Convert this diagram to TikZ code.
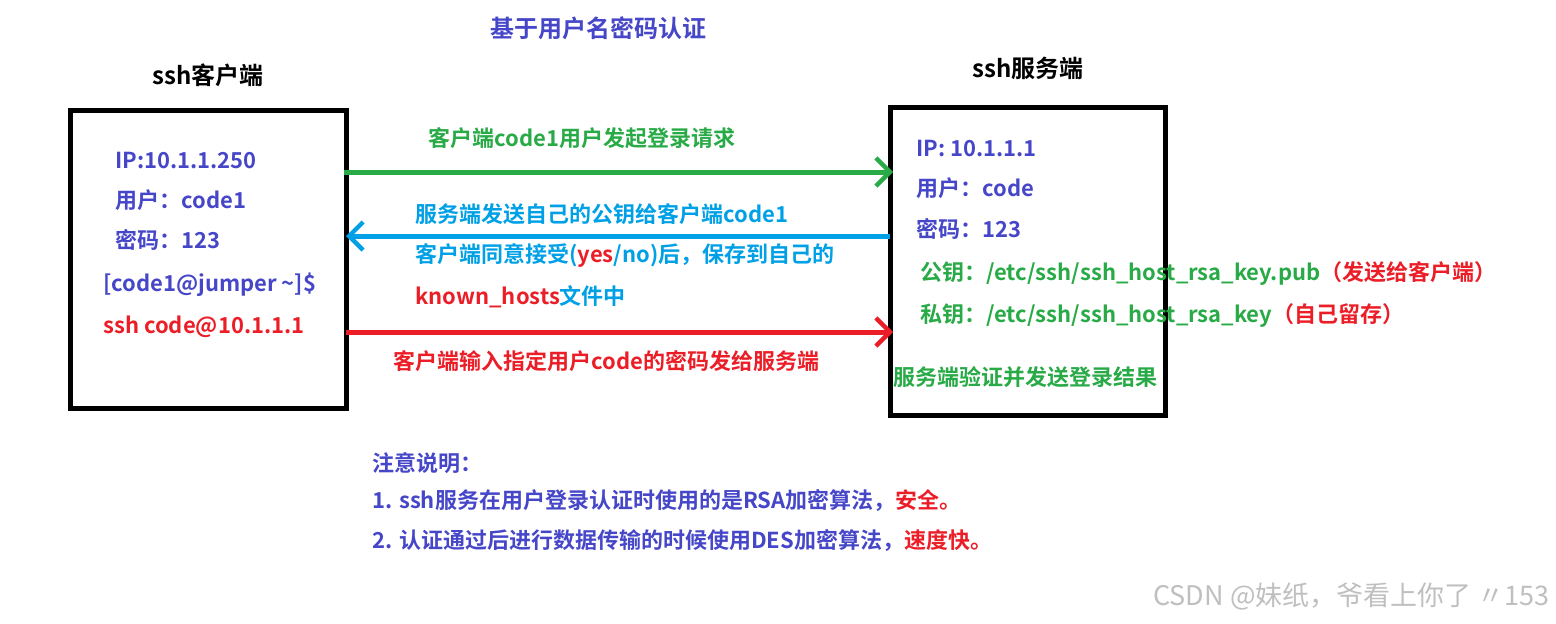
\documentclass[tikz,border=0pt]{standalone}
\usepackage{fontspec}
\setmainfont{Noto Sans CJK SC}[BoldFont={Noto Sans CJK SC Bold}]
\usetikzlibrary{arrows.meta}
\definecolor{tblue}{RGB}{70,70,200}
\definecolor{tgreen}{RGB}{40,170,70}
\definecolor{tcyan}{RGB}{0,160,230}
\definecolor{tred}{RGB}{235,30,40}
\begin{document}
\begin{tikzpicture}[x=0.5pt,y=-0.5pt,
  txt/.style={anchor=west,inner sep=0pt,font=\bfseries\fontsize{11}{12}\selectfont},
  box/.style={draw=black,line width=2.5pt},
  arr/.style={line width=2.5pt,-{Straight Barb[length=7pt,width=14pt,line width=2.2pt]}}]
\useasboundingbox (0,0) rectangle (1556,623);
\node[font=\bfseries\fontsize{12}{13}\selectfont,text=tblue] (title) at (598,28) {基于用户名密码认证};
\node[font=\bfseries\fontsize{12}{14}\selectfont] (cl) at (208,75) {ssh客户端};
\node[font=\bfseries\fontsize{12}{14}\selectfont] (sv) at (1028,68) {ssh服务端};
\draw[box] (70,110) rectangle (346,408);
\draw[box] (890,107) rectangle (1165,415);
\coordinate (L1) at (344,172); \coordinate (R1) at (893,172);
\coordinate (R2) at (890,236); \coordinate (L2) at (346,236);
\coordinate (L3) at (346,332); \coordinate (R3) at (893,332);
\draw[arr,tgreen] (L1) -- (R1);
\draw[arr,tcyan] (R2) -- (L2);
\draw[arr,tred] (L3) -- (R3);
\node[txt,text=tblue] (a1) at (115,160) {IP:10.1.1.250};
\node[txt,text=tblue] (a2) at (115,200) {用户：code1};
\node[txt,text=tblue] (a3) at (115,240) {密码：123};
\node[txt,text=tblue] (a4) at (103,285) {[code1@jumper \textasciitilde]\$};
\node[txt,text=tred] (a5) at (103,327) {ssh code@10.1.1.1};
\node[txt,text=tblue] (b1) at (916,148) {IP: 10.1.1.1};
\node[txt,text=tblue] (b2) at (916,188) {用户：code};
\node[txt,text=tblue] (b3) at (916,229) {密码：123};
\node[txt,text=tgreen] (b4) at (920,273) {公钥：/etc/ssh/ssh\_host\_rsa\_key.pub\textcolor{tred}{（发送给客户端）}};
\node[txt,text=tgreen] (b5) at (920,315) {私钥：/etc/ssh/ssh\_host\_rsa\_key\textcolor{tred}{（自己留存）}};
\node[txt,text=tgreen] (b6) at (893,377) {服务端验证并发送登录结果};
\node[txt,text=tgreen] (m1) at (428,138) {客户端code1用户发起登录请求};
\node[txt,text=tcyan] (m2) at (415,214) {服务端发送自己的公钥给客户端code1};
\node[txt,text=tcyan] (m3) at (415,255) {客户端同意接受(\textcolor{tred}{yes}/no)后，保存到自己的};
\node[txt,text=tcyan] (m4) at (415,297) {\textcolor{tred}{known\_hosts}文件中};
\node[txt,text=tred] (m5) at (393,361) {客户端输入指定用户code的密码发给服务端};
\node[txt,text=tblue] (n1) at (372,463) {注意说明：};
\node[txt,text=tblue] (n2) at (372,500) {1. ssh服务在用户登录认证时使用的是RSA加密算法，\textcolor{tred}{安全。}};
\node[txt,text=tblue] (n3) at (372,540) {2. 认证通过后进行数据传输的时候使用DES加密算法，\textcolor{tred}{速度快。}};
\node[anchor=east,inner sep=0pt,text=black!25,font=\fontsize{13.5}{15}\selectfont] (wm) at (1550,596) {CSDN @妹纸，爷看上你了 〃153};
\end{tikzpicture}
\end{document}
